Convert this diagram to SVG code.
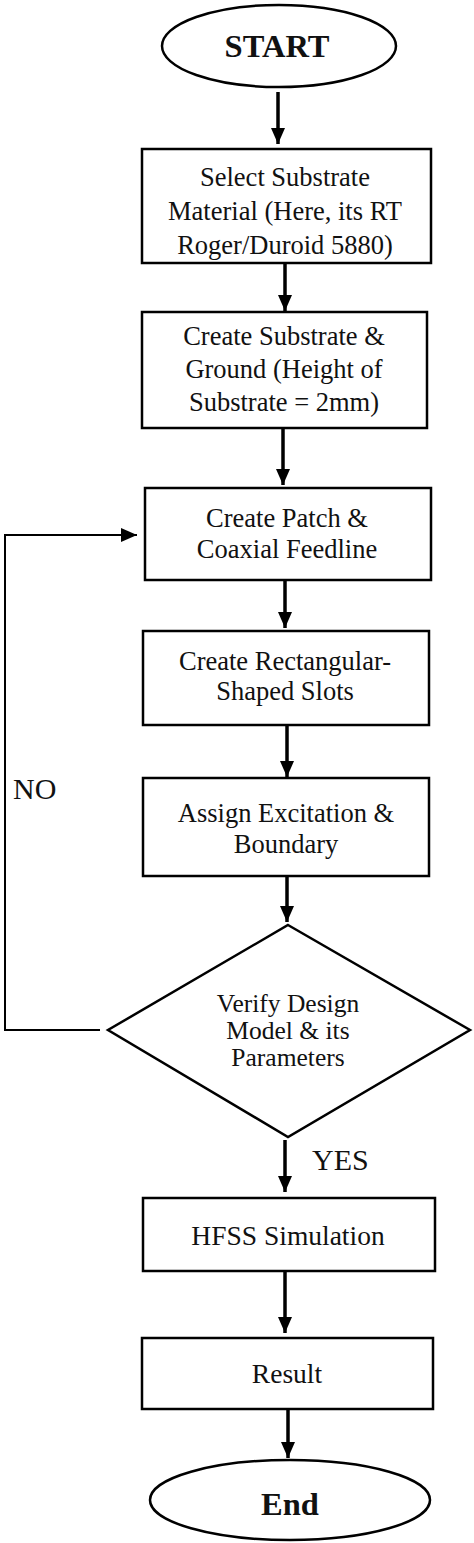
<svg xmlns="http://www.w3.org/2000/svg" width="474" height="1543" viewBox="0 0 474 1543">
<style>
.box{fill:#fff;stroke:#000;stroke-width:2.5}
.t{font-family:'Liberation Serif','DejaVu Serif',serif;font-size:26.5px;fill:#111;text-anchor:middle}
.t2{font-family:'Liberation Serif','DejaVu Serif',serif;font-size:27.5px;fill:#111;text-anchor:middle}
.td{font-family:'Liberation Serif','DejaVu Serif',serif;font-size:25.5px;fill:#111;text-anchor:middle}
.tb{font-family:'Liberation Serif','DejaVu Serif',serif;font-size:32.5px;font-weight:bold;fill:#111;text-anchor:middle}
.lbl{font-family:'Liberation Serif','DejaVu Serif',serif;font-size:30px;fill:#111}
.c{fill:none;stroke:#000;stroke-width:3.5}
.fb{fill:none;stroke:#000;stroke-width:2}
</style>
<defs>
<marker id="ah" markerUnits="userSpaceOnUse" markerWidth="16" markerHeight="16" viewBox="0 0 16 16" refX="16" refY="8" orient="auto">
<path d="M0,1 L16,8 L0,15 Z" fill="#000"/>
</marker>
</defs>
<rect width="474" height="1543" fill="#fff"/>
<g id="connectors">
<line class="c" x1="278" y1="92" x2="278" y2="144" marker-end="url(#ah)"/>
<line class="c" x1="285" y1="264" x2="285" y2="311" marker-end="url(#ah)"/>
<line class="c" x1="283" y1="429" x2="283" y2="485" marker-end="url(#ah)"/>
<line class="c" x1="285" y1="581" x2="285" y2="628" marker-end="url(#ah)"/>
<line class="c" x1="287" y1="726" x2="287" y2="777" marker-end="url(#ah)"/>
<line class="c" x1="287" y1="877" x2="287" y2="922" marker-end="url(#ah)"/>
<line class="c" x1="285" y1="1140" x2="285" y2="1192" marker-end="url(#ah)"/>
<line class="c" x1="285" y1="1272" x2="285" y2="1333" marker-end="url(#ah)"/>
<line class="c" x1="288" y1="1410" x2="288" y2="1458" marker-end="url(#ah)"/>
<polyline class="fb" points="100,1030 5,1030 5,535 137,535" marker-end="url(#ah)"/>
<text class="lbl" x="13" y="799">NO</text>
<text class="lbl" x="312" y="1170">YES</text>
</g>
<g id="start">
<ellipse class="box" cx="279" cy="46" rx="117" ry="41"/>
<text class="tb" x="277" y="57">START</text>
</g>
<g id="select">
<rect class="box" x="142" y="149" width="289" height="114"/>
<text class="t" x="285" y="186">Select Substrate</text>
<text class="t" x="285" y="220">Material (Here, its RT</text>
<text class="t" x="285" y="254">Roger/Duroid 5880)</text>
</g>
<g id="substrate">
<rect class="box" x="142" y="312" width="285" height="116"/>
<text class="t" x="284" y="345">Create Substrate &amp;</text>
<text class="t" x="284" y="378">Ground (Height of</text>
<text class="t" x="284" y="411">Substrate = 2mm)</text>
</g>
<g id="patch">
<rect class="box" x="145" y="488" width="286" height="92"/>
<text class="t" x="287" y="527">Create Patch &amp;</text>
<text class="t" x="287" y="558">Coaxial Feedline</text>
</g>
<g id="slots">
<rect class="box" x="143" y="631" width="286" height="94"/>
<text class="t" x="285" y="670">Create Rectangular-</text>
<text class="t" x="285" y="700">Shaped Slots</text>
</g>
<g id="excitation">
<rect class="box" x="143" y="778" width="286" height="98"/>
<text class="t" x="286" y="822">Assign Excitation &amp;</text>
<text class="t" x="286" y="853">Boundary</text>
</g>
<g id="verify">
<polygon class="box" points="288,925 470,1030 288,1137 108,1030"/>
<text class="td" x="288" y="1012">Verify Design</text>
<text class="td" x="288" y="1039">Model &amp; its</text>
<text class="td" x="288" y="1066">Parameters</text>
</g>
<g id="hfss">
<rect class="box" x="143" y="1198" width="292" height="73"/>
<text class="t2" x="288" y="1245">HFSS Simulation</text>
</g>
<g id="result">
<rect class="box" x="142" y="1338" width="291" height="71"/>
<text class="t2" x="287" y="1383">Result</text>
</g>
<g id="end">
<ellipse class="box" cx="290" cy="1500" rx="140" ry="40"/>
<text class="tb" x="290" y="1515">End</text>
</g>
</svg>
